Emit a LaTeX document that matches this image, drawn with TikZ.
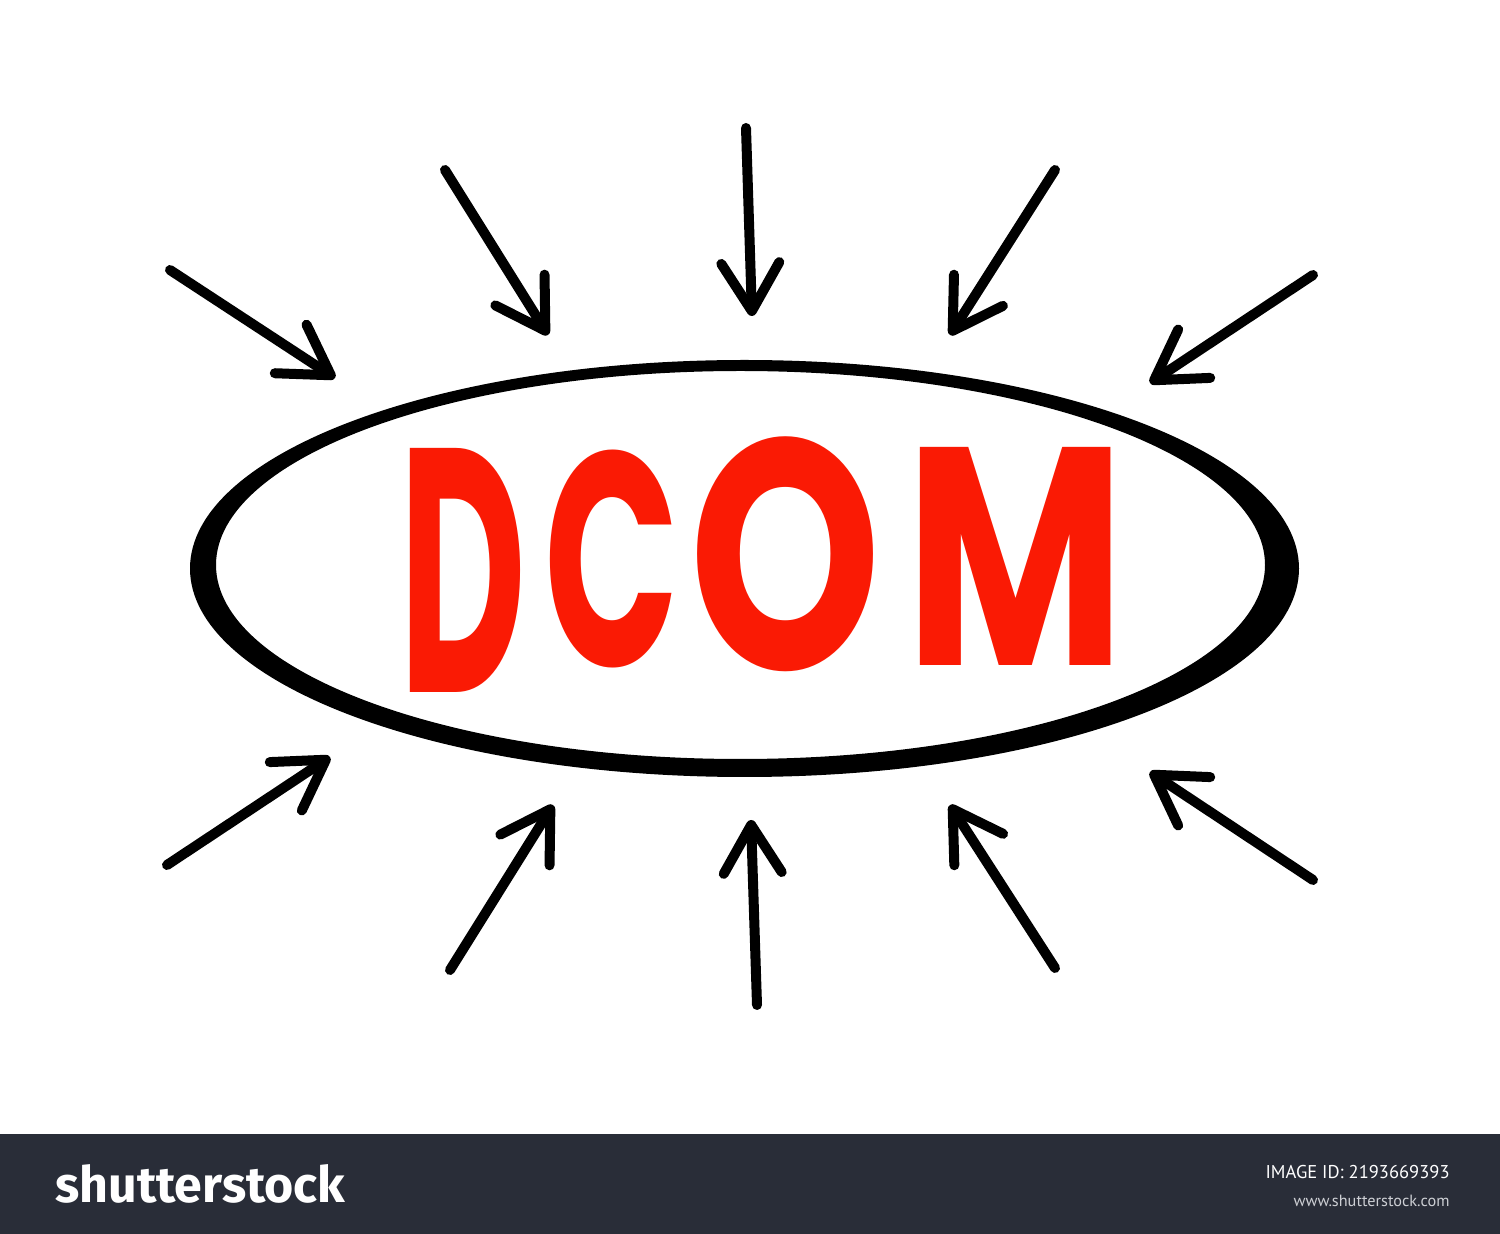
\documentclass[tikz,border=0pt]{standalone}
\usepackage{fontspec}
\usetikzlibrary{arrows.meta,shapes.geometric}
\newfontfamily\dfont{Poppins}
\newfontfamily\logofont{Fira Sans}
\newfontfamily\idfont{PT Sans}
\definecolor{dred}{RGB}{250,26,4}
\definecolor{barbg}{RGB}{41,45,56}
\definecolor{urlgray}{RGB}{205,207,212}
\tikzset{
  inarrow/.style={line width=5pt, line cap=round, black,
    -{Straight Barb[length=24pt,width=29pt,round]}},
  letter/.style={inner sep=0pt, text=dred, font=\dfont\bfseries},
}
\newcommand{\dletter}[3]{\resizebox*{#1}{#2}{#3}}
\begin{document}
\begin{tikzpicture}[x=0.5pt,y=-0.5pt]
\useasboundingbox (0,0) rectangle (1500,1234);
\fill[white] (0,0) rectangle (1500,1234);
% ellipse ring (thicker at the sides)
\node (ring) [ellipse, inner sep=0pt, minimum width=549pt, minimum height=201pt] at (742.5,566.5) {};
\fill[black, even odd rule]
  (744.5,568.5) ellipse [x radius=554.5, y radius=208.5]
  (740.5,565) ellipse [x radius=524.5, y radius=194];
% label letters
\node (lD) [letter] at (463.5,570) {\dletter{63.5pt}{122pt}{D}};
\node (lC) [letter] at (612.5,559) {\dletter{67.5pt}{109pt}{C}};
\node (lO) [letter] at (786,554.5) {\dletter{96pt}{117.5pt}{O}};
\node (lM) [letter] at (1015,556) {\dletter{110pt}{109pt}{M}};
% arrow coordinates
\coordinate (t1) at (170,270);  \coordinate (h1) at (335,378);
\coordinate (t2) at (445,170);  \coordinate (h2) at (548,335);
\coordinate (t3) at (746,128);  \coordinate (h3) at (752,316);
\coordinate (t4) at (1055,170); \coordinate (h4) at (950,335);
\coordinate (t5) at (1313,275); \coordinate (h5) at (1150,383);
\coordinate (t6) at (167,865);  \coordinate (h6) at (330,757);
\coordinate (t7) at (450,970);  \coordinate (h7) at (553,805);
\coordinate (t8) at (757,1005); \coordinate (h8) at (751,820);
\coordinate (t9) at (1055,968); \coordinate (h9) at (950,805);
\coordinate (t10) at (1313,880); \coordinate (h10) at (1150,772);
\foreach \i in {1,...,10} {\draw[inarrow] (t\i) -- (h\i);}
% bottom bar
\fill[barbg] (0,1134) rectangle (1500,1234);
\node (logo) [anchor=west, inner sep=0pt] at (55,1184)
  {\resizebox{145pt}{!}{\color{white}\logofont\bfseries shutterstock}};
\node (imgid) [anchor=east, inner sep=0pt] at (1450,1172)
  {\resizebox{92pt}{!}{\color{white}\idfont IMAGE ID: 2193669393}};
\node (url) [anchor=east, inner sep=0pt] at (1450,1201)
  {\resizebox{78pt}{!}{\color{urlgray}\idfont www.shutterstock.com}};
\end{tikzpicture}
\end{document}
